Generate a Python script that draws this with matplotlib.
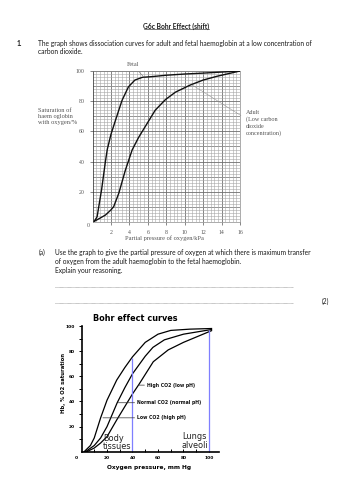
import matplotlib.pyplot as plt

W, H = 353, 500

# chart 1: dissociation curves, fetal vs adult (kPa, % saturation)
fetal_kpa = [0.2, 0.5, 1.0, 1.4, 1.6, 2.0, 2.5, 3.2, 3.9, 4.6, 5.4, 6.5, 8.0, 10.0, 12.0, 14.0, 16.0]
fetal_sat = [0.5, 3.5, 22, 40, 48, 58, 67.5, 80.5, 89.5, 94, 95.8, 96.3, 97.2, 98, 98.6, 99.3, 100]
adult_kpa = [0.2, 0.8, 1.4, 2.0, 2.3, 2.85, 3.57, 4.3, 5.0, 5.7, 6.8, 7.9, 9.0, 10.6, 12.0, 13.5, 16.0]
adult_sat = [0.5, 2.5, 4.6, 8, 10.2, 19, 34.4, 47.7, 56, 63, 74, 81, 86, 90.7, 94, 96.5, 100]
kpa_ticks = [2, 4, 6, 8, 10, 12, 14, 16]
sat_ticks = [20, 40, 60, 80, 100]

# chart 2: Bohr effect curves (mm Hg, % saturation)
low_x = [2, 7, 10, 15, 20, 27.6, 34, 40, 50, 60, 70, 85, 102]
low_y = [0, 5, 11, 27, 41, 57, 67, 75.5, 87, 93.5, 96.5, 97.5, 98]
norm_x = [3, 10, 15, 20, 28, 34, 40, 50, 56, 65, 80, 102]
norm_y = [0, 5, 11, 20, 39, 51, 62, 76, 83, 89, 93.5, 97.2]
high_x = [4, 10, 15, 20, 27.6, 34, 40, 45, 56.3, 68, 80, 102]
high_y = [0, 3, 7, 12, 25.3, 36, 46, 53.5, 71.6, 81, 87, 96.3]
blue_x = [40, 100]
blue_top = [74.5, 97]
mm_ticks = [20, 40, 60, 80, 100]


def fx(x):
    return x / W


def fy(y):
    return 1 - y / H


body = dict(family="Lato", fontsize=4.75, color="#1a1a1a")

fig = plt.figure(figsize=(W / 100, H / 100), dpi=100)

# page text
fig.text(fx(176.5), fy(26), "G6c Bohr Effect (shift)", ha="center", va="center",
         fontweight="bold", **body)
fig.add_artist(plt.Line2D([fx(144), fx(209)], [fy(29.5), fy(29.5)], lw=0.4, color="#1a1a1a"))
fig.text(fx(17), fy(43.3), "1.", ha="left", va="center", fontweight="bold", **body)
fig.text(fx(38.3), fy(43.3),
         "The graph shows dissociation curves for adult and fetal haemoglobin at a low concentration of",
         ha="left", va="center", **body)
fig.text(fx(38.3), fy(51.7), "carbon dioxide.", ha="left", va="center", **body)

fig.text(fx(38.3), fy(252.7), "(a)", ha="left", va="center", **body)
para = ["Use the graph to give the partial pressure of oxygen at which there is maximum transfer",
        "of oxygen from the adult haemoglobin to the fetal haemoglobin.",
        "Explain your reasoning."]
for line, yy in zip(para, [252.7, 261.7, 270]):
    fig.text(fx(55), fy(yy), line, ha="left", va="center", **body)
for yy in [287.3, 302.7]:
    fig.add_artist(plt.Line2D([fx(55), fx(293)], [fy(yy), fy(yy)], lw=0.4,
                              color="#555555", linestyle=(0, (0.8, 0.8))))
fig.text(fx(322), fy(301.7), "(2)", ha="left", va="center", **body)

# ---- chart 1 ----
serif = dict(family="Liberation Serif", color="#555555")
ax1 = fig.add_axes([fx(92.5), fy(222), 147.5 / W, 151 / H])
ax1.plot(fetal_kpa, fetal_sat, color="#111111", lw=1.0, zorder=3)
ax1.plot(adult_kpa, adult_sat, color="#111111", lw=1.0, zorder=3)
ax1.set_xlim(0, 16)
ax1.set_ylim(0, 100)
ax1.set_xticks(kpa_ticks)
ax1.set_xticklabels([str(v) for v in kpa_ticks], **serif)
ax1.set_yticks(sat_ticks)
ax1.set_yticklabels([str(v) for v in sat_ticks], **serif)
ax1.set_xticks([i * 0.4 for i in range(41)], minor=True)
ax1.set_yticks([i * 2 for i in range(51)], minor=True)
ax1.grid(which="minor", color="#a6a6a6", lw=0.4)
ax1.grid(which="major", color="#6e6e6e", lw=0.6)
for v in [10, 30, 50, 70, 90]:
    ax1.axhline(v, color="#6e6e6e", lw=0.6, zorder=1)
ax1.tick_params(which="major", labelsize=4.2, length=2.5, width=0.5, pad=3, colors="#555555")
ax1.tick_params(which="minor", length=0)
for s in ax1.spines.values():
    s.set_color("#8a8a8a")
    s.set_linewidth(0.5)
ax1.spines["left"].set_color("#333333")
fig.text(fx(88), fy(225.5), "0", ha="center", va="center", fontsize=4.2, **serif)

ax1.annotate("Fetal", xy=(5.6, 95.8), xytext=(4.35, 104), ha="center", va="center",
             fontsize=4.4, annotation_clip=False, **serif,
             arrowprops=dict(arrowstyle="-", lw=0.4, color="#777777", shrinkA=1.5, shrinkB=0))
ax1.annotate("", xy=(10.8, 90.8), xytext=(16.1, 70.5), annotation_clip=False,
             arrowprops=dict(arrowstyle="-", lw=0.4, color="#888888", linestyle=(0, (2, 1)),
                             shrinkA=0, shrinkB=0))
fig.text(fx(246), fy(109.5), "Adult\n(Low carbon\ndioxide\nconcentration)", ha="left", va="top",
         fontsize=4.4, linespacing=1.4, **serif)
fig.text(fx(38), fy(107.5), "Saturation of\nhaem oglobin\nwith oxygen/%", ha="left", va="top",
         fontsize=4.6, linespacing=1.35, **serif)
fig.text(fx(164), fy(238), "Partial pressure of oxygen/kPa", ha="center", va="center",
         fontsize=4.6, **serif)

# ---- chart 2 ----
ax2 = fig.add_axes([fx(81.5), fy(451.8), 137.7 / W, 125.8 / H])
for xs, ys in [(low_x, low_y), (norm_x, norm_y), (high_x, high_y)]:
    ax2.plot(xs, ys, color="black", lw=0.9)
ax2.vlines(blue_x, 0, blue_top, colors="#7f7fff", lw=0.9)
ax2.set_xlim(0, 108)
ax2.set_ylim(0, 100)
ax2.spines["top"].set_visible(False)
ax2.spines["right"].set_visible(False)
ax2.spines["left"].set_linewidth(1.2)
ax2.spines["bottom"].set_linewidth(1.2)
ax2.set_xticks(mm_ticks)
ax2.set_yticks(sat_ticks)
ax2.set_xticks([10, 30, 50, 70, 90], minor=True)
ax2.set_yticks([10, 30, 50, 70, 90], minor=True)
ax2.tick_params(axis="x", which="both", direction="in", length=2.2, width=0.7, pad=3)
ax2.tick_params(axis="y", which="both", direction="out", length=2.2, width=0.7, pad=2.5)
ax2.tick_params(labelsize=3.2)
for lab in ax2.get_xticklabels() + ax2.get_yticklabels():
    lab.set_fontweight("bold")
fig.text(fx(76), fy(458.3), "0", ha="center", va="center", fontsize=3.2, fontweight="bold")

ann = dict(fontsize=3.3, fontweight="bold", ha="left", va="center", color="#111111")
line_kw = dict(arrowstyle="-", lw=0.5, color="#333333", shrinkA=0, shrinkB=0)
ax2.annotate("High CO2 (low pH)", xy=(44.5, 53), xytext=(51.5, 53), arrowprops=line_kw, **ann)
ax2.annotate("Normal CO2 (normal pH)", xy=(28.9, 39), xytext=(43.8, 39), arrowprops=line_kw, **ann)
ax2.annotate("Low CO2 (high pH)", xy=(16.8, 27), xytext=(43.8, 27), arrowprops=line_kw, **ann)
ax2.text(17, 7.3, "Body\ntissues", ha="left", va="center", fontsize=5.9, linespacing=0.9,
         color="#222222")
ax2.text(88.5, 8.6, "Lungs\nalveoli", ha="center", va="center", fontsize=5.9, linespacing=0.9,
         color="#222222")

fig.text(fx(93.3), fy(318.3), "Bohr effect curves", ha="left", va="center",
         fontsize=5.9, fontweight="bold")
fig.text(fx(63.3), fy(383), "Hb, % O2 saturation", ha="center", va="center", rotation=90,
         fontsize=3.8, fontweight="bold")
fig.text(fx(149), fy(467.7), "Oxygen pressure, mm Hg", ha="center", va="center",
         fontsize=4.2, fontweight="bold")

fig.savefig("out.png", dpi=100)
